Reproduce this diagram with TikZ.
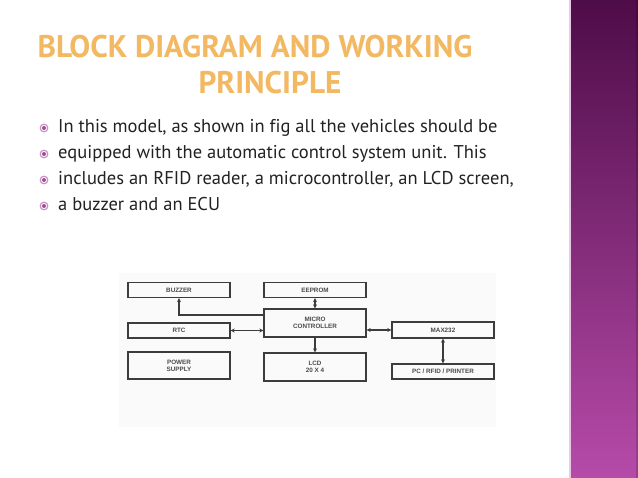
\documentclass[tikz,border=0pt]{standalone}
\usepackage{fontspec}
\setmainfont[Ligatures=NoCommon]{PT Sans}
\newfontfamily\titlefont{PT Sans}
\newfontfamily\boxfont{Liberation Sans}
\usetikzlibrary{arrows.meta,calc}
\definecolor{bandtop}{HTML}{4E0C48}
\definecolor{bandbot}{HTML}{B64BA9}
\definecolor{titleor}{HTML}{F3B862}
\definecolor{bulletc}{HTML}{A24B99}
\definecolor{bodytxt}{HTML}{222222}
\definecolor{boxline}{HTML}{3C3C3C}
\definecolor{boxtxt}{HTML}{4A4A4A}
\tikzset{
  blk/.style={draw=boxline, line width=1.3pt, minimum width=102pt, inner sep=0pt,
    font=\boxfont\bfseries\fontsize{6.3}{7.2}\selectfont, text=boxtxt, align=center},
  conn/.style={draw=boxline, line width=1.1pt},
  tip/.style={-{Stealth[length=4pt,width=4pt]}},
  tips/.style={{Stealth[length=4pt,width=4pt]}-{Stealth[length=4pt,width=4pt]}},
  bodyline/.style={anchor=base west, inner sep=0pt, text=bodytxt, font=\fontsize{18.5}{22}\selectfont},
  titleline/.style={anchor=base, inner sep=0pt, text=titleor, font=\titlefont\bfseries\fontsize{31.3}{36}\selectfont},
}
\begin{document}
\begin{tikzpicture}[x=1pt,y=-1pt]
\useasboundingbox (0,0) rectangle (638,478);
\fill[white] (0,0) rectangle (638,478);
% purple band
\shade[top color=bandtop, bottom color=bandbot] (569,0) rectangle (638,478);
\fill[white!70!bandbot] (569,0) rectangle (571,478);
\fill[black,opacity=0.15] (635.5,0) rectangle (638,478);
% title
\node[titleline] (t1) at (255,58) {BLOCK DIAGRAM AND WORKING};
\node[titleline] (t2) at (270,94) {PRINCIPLE};
% bullets
\foreach \yy/\nm in {133/b1,159/b2,185/b3,211/b4}{
  \draw[bulletc!60!white, line width=1.2pt] (44,\yy-5) circle (3.8);
  \fill[bulletc] (44,\yy-5) circle (2);
}
\node[bodyline] (l1) at (58,133) {In this model, as shown in fig all the vehicles should be};
\node[bodyline] (l2) at (58,159) {equipped with the automatic control system unit. This};
\node[bodyline] (l3) at (58,185) {includes an RFID reader, a microcontroller, an LCD screen,};
\node[bodyline] (l4) at (58,211) {a buzzer and an ECU};
% diagram background
\fill[gray!4] (119,273) rectangle (496,427);
% blocks
\node[blk, minimum height=15pt] (buzzer) at (179,290) {BUZZER};
\node[blk, minimum height=15pt] (eeprom) at (315,290) {EEPROM};
\node[blk, minimum height=28pt] (micro) at (315,323) {MICRO\\CONTROLLER};
\node[blk, minimum height=15pt] (rtc) at (179,330.5) {RTC};
\node[blk, minimum height=27pt] (power) at (179,365.5) {POWER\\SUPPLY};
\node[blk, minimum height=28pt] (lcd) at (315,367) {LCD\\20 X 4};
\node[blk, minimum height=16pt] (max) at (443,330) {MAX232};
\node[blk, minimum height=15pt] (pc) at (443,371.5) {PC / RFID / PRINTER};
% connectors
\draw[conn,tip] ([yshift=8pt]micro.west) -| (buzzer.south);
\draw[conn,tips] (rtc.east) -- (rtc.east -| micro.west);
\draw[conn,tips] (eeprom.south) -- (micro.north);
\draw[conn,tip] (micro.south) -- (lcd.north);
\draw[conn,tips] (max.west -| micro.east) -- (max.west);
\draw[conn,tips] (max.south) -- (pc.north);
\end{tikzpicture}
\end{document}
